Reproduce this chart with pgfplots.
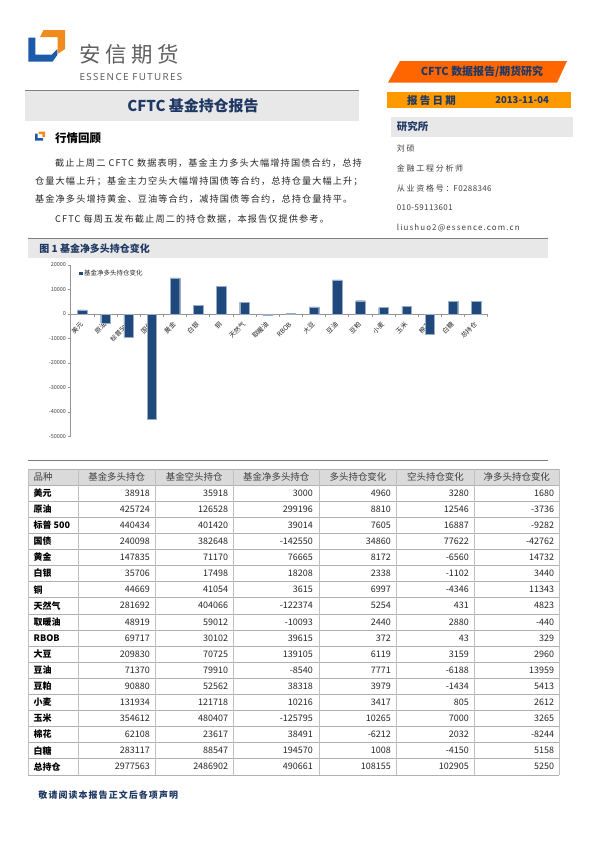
\documentclass[border=0pt]{standalone}
\usepackage{fontspec}
\setmainfont{Noto Sans CJK SC}
\newfontfamily\bodyf[LetterSpace=12]{Noto Sans CJK SC}
\newfontfamily\widef[LetterSpace=22]{Noto Sans CJK SC}
\newfontfamily\latf[LetterSpace=14]{Noto Sans CJK SC}
\newfontfamily\numf[LetterSpace=5]{Noto Sans CJK SC}
\newfontfamily\logof[LetterSpace=14]{Noto Sans}
\usepackage{pgfplots}
\pgfplotsset{compat=1.18}
\definecolor{navy}{RGB}{31,56,100}
\definecolor{barblue}{RGB}{31,73,125}
\definecolor{boxgray}{RGB}{232,232,232}
\definecolor{hdrgray}{RGB}{218,218,218}
\definecolor{linegray}{RGB}{128,128,128}
\definecolor{tablegray}{RGB}{176,176,176}
\definecolor{axisgray}{RGB}{150,150,150}
\definecolor{banner}{RGB}{255,102,0}
\definecolor{rectorange}{RGB}{255,153,0}
\definecolor{logoblue}{RGB}{30,90,170}
\definecolor{logoorange}{RGB}{240,140,30}
\definecolor{logotext}{RGB}{95,95,95}
\definecolor{txt}{RGB}{38,38,38}
\definecolor{soft}{RGB}{64,64,64}
\newcommand\fs[1]{\fontsize{#1}{#1}\selectfont}

\begin{document}
\begin{tikzpicture}[x=1bp,y=-1bp]
\path[use as bounding box] (0,0) rectangle (595,842);
\fill[white] (0,0) rectangle (595,842);

% ---------- logo ----------
\fill[logoblue] (28.3,37.7) -- (35.3,37.7) -- (35.3,54.5) -- (52,54.5) -- (57.3,49) -- (57.3,55) -- (52.5,61.7) -- (28.3,61.7) -- cycle;
\fill[logoorange] (43.5,30) -- (65,30) -- (65,49) -- (57.5,54) -- (57.5,37) -- (40,37) -- cycle;
\node[anchor=west, inner sep=0, text=logotext] at (79,54.5) {\widef\fs{21.5}安信期货};
\node[anchor=west, inner sep=0, text=logotext] at (79.5,76.8) {\logof\fs{9.8}ESSENCE FUTURES};

% ---------- title block ----------
\draw[linegray, line width=1.2bp] (25,90.5) -- (359.3,90.5);
\fill[boxgray] (25,91.2) rectangle (359.3,121);
\node[text=navy, font=\bfseries\fs{15}] at (193,106) {CFTC 基金持仓报告};

% ---------- right column ----------
\fill[banner] (400,61) -- (567,61) -- (557,82.7) -- (388,82.7) -- cycle;
\node[text=navy, font=\bfseries\fs{11}] at (482,72) {CFTC 数据报告/期货研究};
\fill[rectorange] (387,92.3) rectangle (571,108.3);
\node[anchor=west, inner sep=0, text=navy] at (407,100.3) {\widef\bfseries\fs{10.5}报告日期};
\node[anchor=east, inner sep=0, text=navy, font=\bfseries\fs{9.5}] at (549,100.3) {2013-11-04};
\fill[boxgray] (390.7,117) rectangle (572.7,136.7);
\node[anchor=west, inner sep=0, text=navy] at (396.7,127) {\bfseries\fs{10.5}研究所};
\node[anchor=west, inner sep=0, text=soft] at (396.7,148.3) {\widef\fs{8}刘硕};
\node[anchor=west, inner sep=0, text=soft] at (396.7,168.3) {\widef\fs{8}金融工程分析师};
\node[anchor=west, inner sep=0, text=soft] at (396.7,188.3) {\widef\fs{8}从业资格号：{\numf F0288346}};
\node[anchor=west, inner sep=0, text=soft] at (396.7,207.7) {\numf\fs{8}010-59113601};
\node[anchor=west, inner sep=0, text=soft] at (396.7,227.7) {\latf\fs{8}liushuo2@essence.com.cn};

% ---------- review section ----------
\fill[logoblue] (35,133.5) -- (37.6,133.5) -- (37.6,138) -- (43,138) -- (43,140.5) -- (35,140.5) -- cycle;
\fill[logoorange] (38.6,131.5) -- (45,131.5) -- (45,137.2) -- (42.4,137.2) -- (42.4,134) -- (38.6,134) -- cycle;
\node[anchor=west, inner sep=0, text=black] at (55,138.3) {\bfseries\fs{11.5}行情回顾};
\node[anchor=west, inner sep=0, text=txt] at (55,162.7) {\bodyf\fs{9.2}截止上周二 CFTC 数据表明，基金主力多头大幅增持国债合约，总持};
\node[anchor=west, inner sep=0, text=txt] at (35,181) {\bodyf\fs{9.2}仓量大幅上升；基金主力空头大幅增持国债等合约，总持仓量大幅上升；};
\node[anchor=west, inner sep=0, text=txt] at (35,199.5) {\bodyf\fs{9.2}基金净多头增持黄金、豆油等合约，减持国债等合约，总持仓量持平。};
\node[anchor=west, inner sep=0, text=txt] at (55,219.3) {\bodyf\fs{9.2}CFTC 每周五发布截止周二的持仓数据，本报告仅提供参考。};

% ---------- figure band ----------
\draw[linegray, line width=1bp] (28.3,238.3) -- (548.3,238.3);
\fill[boxgray] (28.3,239.3) rectangle (548.3,258);
\node[anchor=west, inner sep=0, text=navy] at (39.3,248.3) {\bfseries\fs{10}图 1 基金净多头持仓变化};

% ---------- chart ----------
\begin{axis}[
  at={(70.7bp,-436.5bp)}, anchor=south west,
  scale only axis, width=417bp, height=171.5bp,
  xmin=-0.5, xmax=17.5, ymin=-50000, ymax=20000,
  axis x line*=middle, axis y line*=left,
  axis line style={draw=axisgray, line width=0.6bp},
  hide obscured x ticks=false, hide obscured y ticks=false,
  ybar, bar width=9.5bp,
  xtick={0,...,17},
  xticklabels={美元,原油,标普500,国债,黄金,白银,铜,天然气,取暖油,RBOB,大豆,豆油,豆粕,小麦,玉米,棉花,白糖,总持仓},
  major x tick style={draw=none},
  minor xtick={-0.5,0.5,...,17.5},
  minor x tick style={draw=axisgray, line width=0.5bp},
  minor tick length=2.5bp,
  ytick={-50000,-40000,...,20000},
  ytick style={draw=axisgray, line width=0.5bp},
  major tick length=3bp,
  tick align=outside,
  scaled y ticks=false,
  /pgf/number format/1000 sep={},
  /pgf/number format/assume math mode=true,
  yticklabel style={font=\fs{5.5}, text=soft, inner sep=1.5bp},
  xticklabel style={font=\fs{6.5}, text=txt, inner sep=0.5bp, yshift=-6bp, rotate=45, anchor=east},
  legend style={at={(0.02,0.985)}, anchor=north west, draw=none, fill=none,
    font=\fs{6.5}, inner sep=0pt, text=txt},
]
\addplot[fill=barblue, draw=barblue!45!white, line width=0.4bp,
  legend image code/.code={\fill[barblue] (0bp,-1.3bp) rectangle (2.6bp,1.3bp);}]
  coordinates {(0,1680) (1,-3736) (2,-9282) (3,-42762) (4,14732) (5,3440)
  (6,11343) (7,4823) (8,-440) (9,329) (10,2960) (11,13959) (12,5413)
  (13,2612) (14,3265) (15,-8244) (16,5158) (17,5250)};
\addlegendentry{基金净多头持仓变化}
\end{axis}

% ---------- table ----------
\draw[linegray, line width=0.8bp] (28.3,460.7) -- (548.3,460.7);
\fill[hdrgray] (28.3,469) rectangle (559.3,485);
\foreach \k in {0,...,18} {\draw[tablegray, line width=0.6bp] (28.3,{485+16.1*\k}) -- (559.3,{485+16.1*\k});}
\draw[tablegray, line width=0.6bp] (28.3,469) -- (559.3,469);
\foreach \xx in {28.3,78.3,155,233.3,319.3,396.7,474.3,559.3} {\draw[tablegray!80, line width=1bp] (\xx,469) -- (\xx,774.8);}
\node[anchor=west, inner sep=0, text=soft, font=\fs{9.5}] at (33.5,477) {品种};
\node[text=soft, font=\fs{9.5}] at (116.7,477) {基金多头持仓};
\node[text=soft, font=\fs{9.5}] at (194.2,477) {基金空头持仓};
\node[text=soft, font=\fs{9.5}] at (276.3,477) {基金净多头持仓};
\node[text=soft, font=\fs{9.5}] at (358,477) {多头持仓变化};
\node[text=soft, font=\fs{9.5}] at (435.5,477) {空头持仓变化};
\node[text=soft, font=\fs{9.5}] at (516.8,477) {净多头持仓变化};
\foreach \n/\a/\b/\c/\d/\e/\f [count=\k] in {
美元/38918/35918/3000/4960/3280/1680,
原油/425724/126528/299196/8810/12546/-3736,
标普 500/440434/401420/39014/7605/16887/-9282,
国债/240098/382648/-142550/34860/77622/-42762,
黄金/147835/71170/76665/8172/-6560/14732,
白银/35706/17498/18208/2338/-1102/3440,
铜/44669/41054/3615/6997/-4346/11343,
天然气/281692/404066/-122374/5254/431/4823,
取暖油/48919/59012/-10093/2440/2880/-440,
RBOB/69717/30102/39615/372/43/329,
大豆/209830/70725/139105/6119/3159/2960,
豆油/71370/79910/-8540/7771/-6188/13959,
豆粕/90880/52562/38318/3979/-1434/5413,
小麦/131934/121718/10216/3417/805/2612,
玉米/354612/480407/-125795/10265/7000/3265,
棉花/62108/23617/38491/-6212/2032/-8244,
白糖/283117/88547/194570/1008/-4150/5158,
总持仓/2977563/2486902/490661/108155/102905/5250}
{
  \pgfmathsetmacro\yy{485+16.1*(\k-0.5)}
  \node[anchor=west, inner sep=0, text=black, font=\bfseries\fs{9}] at (33.5,\yy) {\n};
  \node[anchor=east, inner sep=0, text=txt, font=\fs{9}] at (150,\yy) {\a};
  \node[anchor=east, inner sep=0, text=txt, font=\fs{9}] at (228.3,\yy) {\b};
  \node[anchor=east, inner sep=0, text=txt, font=\fs{9}] at (313,\yy) {\c};
  \node[anchor=east, inner sep=0, text=txt, font=\fs{9}] at (391,\yy) {\d};
  \node[anchor=east, inner sep=0, text=txt, font=\fs{9}] at (469,\yy) {\e};
  \node[anchor=east, inner sep=0, text=txt, font=\fs{9}] at (554.3,\yy) {\f};
}

% ---------- footer ----------
\node[anchor=west, inner sep=0, text=navy] at (38.3,795) {\bodyf\bfseries\fs{9}敬请阅读本报告正文后各项声明};
\end{tikzpicture}
\end{document}
